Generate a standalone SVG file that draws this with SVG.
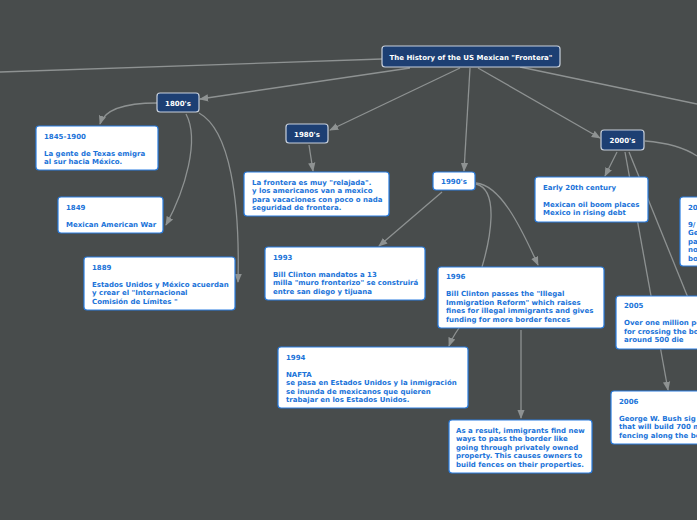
<svg xmlns="http://www.w3.org/2000/svg" width="697" height="520" viewBox="0 0 697 520">
<style>
text{font-family:"DejaVu Sans",Verdana,sans-serif;font-weight:bold;font-size:7px;fill:#1a73d9}
.hd{fill:#1d3f73;stroke:#c8d0dc;stroke-width:1.2}
.hd+text,.w{fill:#fff;text-anchor:middle}
.bx{fill:#fff;stroke:#2a7de0;stroke-width:1.2}
#conn path{fill:none;stroke:#8e9292;stroke-width:1.3}
</style>
<defs><marker id="a" viewBox="0 0 10 10" refX="9" refY="5" markerWidth="7" markerHeight="7" orient="auto"><path d="M0,1L10,5L0,9z" fill="#8e9292"/></marker></defs>
<rect width="697" height="520" fill="#484c4c"/>
<g id="conn">
<path d="M382,59L0,72"/>
<path d="M410,68L200,99" marker-end="url(#a)"/>
<path d="M460,68L330,130" marker-end="url(#a)"/>
<path d="M470,68L464,171" marker-end="url(#a)"/>
<path d="M478,68L600,138" marker-end="url(#a)"/>
<path d="M520,67L697,104"/>
<path d="M157,103C130,103 105,108 100,124" marker-end="url(#a)"/>
<path d="M186,114C200,140 185,190 166,225" marker-end="url(#a)"/>
<path d="M199,113C230,130 240,200 238,282" marker-end="url(#a)"/>
<path d="M309,145L313,171" marker-end="url(#a)"/>
<path d="M442,192L379,246" marker-end="url(#a)"/>
<path d="M476,184C500,190 490,240 482,267"/>
<path d="M476,183C500,185 520,225 538,265" marker-end="url(#a)"/>
<path d="M459,328Q452,338 449,346" marker-end="url(#a)"/>
<path d="M521,330L521,418" marker-end="url(#a)"/>
<path d="M617,152L605,176" marker-end="url(#a)"/>
<path d="M625,152L668,390" marker-end="url(#a)"/>
<path d="M629,152L697,320"/>
<path d="M645,141C670,143 688,150 697,156"/>
</g>
<g id="root"><rect class="hd" x="382" y="46" width="178" height="21" rx="3"/><text class="w" x="471" y="60">The History of the US Mexican "Frontera"</text></g>
<g id="n1800"><rect class="hd" x="157" y="93" width="42" height="19" rx="3"/><text class="w" x="178" y="106">1800's</text></g>
<g id="n1980"><rect class="hd" x="286" y="124" width="42" height="19" rx="3"/><text class="w" x="307" y="137">1980's</text></g>
<g id="n1990"><rect class="bx" x="433" y="172" width="42" height="18" rx="3"/><text x="454" y="184" text-anchor="middle">1990's</text></g>
<g id="n2000"><rect class="hd" x="601" y="130" width="43" height="20" rx="3"/><text class="w" x="622.5" y="143">2000's</text></g>
<g id="n1845"><rect class="bx" x="36" y="126" width="122" height="44" rx="3"/><text x="44" y="139">1845-1900</text><text x="44" y="156">La gente de Texas emigra</text><text x="44" y="164">al sur hacia México.</text></g>
<g id="n1849"><rect class="bx" x="58" y="197" width="105" height="36" rx="3"/><text x="66" y="210">1849</text><text x="66" y="227">Mexican American War</text></g>
<g id="n1889"><rect class="bx" x="84" y="257" width="151" height="53" rx="3"/><text x="92" y="270">1889</text><text x="92" y="287">Estados Unidos y México acuerdan</text><text x="92" y="295">y crear el "Internacional</text><text x="92" y="304">Comisión de Límites "</text></g>
<g id="nfrontera"><rect class="bx" x="244" y="172" width="145" height="44" rx="3"/><text x="252" y="185">La frontera es muy "relajada".</text><text x="252" y="193">y los americanos van a mexico</text><text x="252" y="202">para vacaciones con poco o nada</text><text x="252" y="210">seguridad de frontera.</text></g>
<g id="n1993"><rect class="bx" x="265" y="247" width="160" height="53" rx="3"/><text x="273" y="260">1993</text><text x="273" y="277">Bill Clinton mandatos a 13</text><text x="273" y="285">milla "muro fronterizo" se construirá</text><text x="273" y="294">entre san diego y tijuana</text></g>
<g id="n1996"><rect class="bx" x="438" y="267" width="166" height="61" rx="3"/><text x="446" y="279">1996</text><text x="446" y="296">Bill Clinton passes the "Illegal</text><text x="446" y="305">Immigration Reform" which raises</text><text x="446" y="313"> fines for illegal immigrants and gives</text><text x="446" y="322">funding for more border fences</text></g>
<g id="n1994"><rect class="bx" x="278" y="347" width="190" height="61" rx="3"/><text x="286" y="360">1994</text><text x="286" y="377">NAFTA</text><text x="286" y="385">se pasa en Estados Unidos y la inmigración</text><text x="286" y="394">se inunda de mexicanos que quieren</text><text x="286" y="402">trabajar en los Estados Unidos.</text></g>
<g id="nresult"><rect class="bx" x="449" y="420" width="143" height="53" rx="3"/><text x="456" y="433">As a result, immigrants find new</text><text x="456" y="441">ways to pass the border like</text><text x="456" y="450">going through privately owned</text><text x="456" y="458">property. This causes owners to</text><text x="456" y="467">build fences on their properties.</text></g>
<g id="nearly"><rect class="bx" x="535" y="177" width="113" height="45" rx="3"/><text x="543" y="190">Early 20th century</text><text x="543" y="207">Mexican oil boom places</text><text x="543" y="215">Mexico in rising debt</text></g>
<g id="n2001"><rect class="bx" x="680" y="197" width="30" height="69" rx="3"/><text x="688" y="210">20</text><text x="688" y="227">9/</text><text x="688" y="235">Ge</text><text x="688" y="244">pa</text><text x="688" y="252">no</text><text x="688" y="261">bo</text></g>
<g id="n2005"><rect class="bx" x="616" y="296" width="95" height="53" rx="3"/><text x="624" y="308">2005</text><text x="624" y="325">Over one million pe</text><text x="624" y="334">for crossing the bo</text><text x="624" y="342">around 500 die</text></g>
<g id="n2006"><rect class="bx" x="611" y="391" width="100" height="53" rx="3"/><text x="619" y="404">2006</text><text x="619" y="421">George W. Bush sig</text><text x="619" y="429">that will build 700 m</text><text x="619" y="438">fencing along the bo</text></g>
</svg>
